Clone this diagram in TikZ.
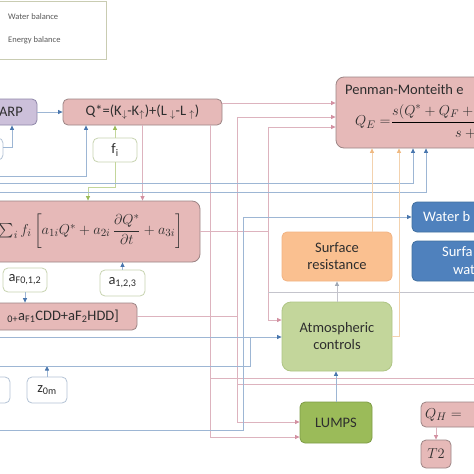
\documentclass[tikz,border=0pt]{standalone}
\usepackage{amsmath}
\usepackage{fontspec}
\setmainfont{Carlito}
\usetikzlibrary{arrows.meta}
\definecolor{pinkfill}{HTML}{E6B9B8}
\definecolor{pinkdraw}{HTML}{9C8585}
\definecolor{purfill}{HTML}{CCC0DA}
\definecolor{purdraw}{HTML}{8E86A8}
\definecolor{orfill}{HTML}{FAC090}
\definecolor{ordraw}{HTML}{F2B382}
\definecolor{lgfill}{HTML}{C3D69B}
\definecolor{lgdraw}{HTML}{AFC585}
\definecolor{dgfill}{HTML}{9BBB59}
\definecolor{dgdraw}{HTML}{7E9C46}
\definecolor{bfill}{HTML}{4F81BD}
\definecolor{bdraw}{HTML}{41709F}
\definecolor{pline}{HTML}{DDB3BE}
\definecolor{ptip}{HTML}{D391A2}
\definecolor{bline}{HTML}{9DB6D4}
\definecolor{btip}{HTML}{4A77AE}
\definecolor{gline}{HTML}{C3D69B}
\definecolor{gtip}{HTML}{9BBB59}
\definecolor{tline}{HTML}{F3D2AE}
\definecolor{ttip}{HTML}{EFB982}
\definecolor{greyline}{HTML}{C4C4CC}
\definecolor{greytip}{HTML}{A0A8B4}
\definecolor{legdraw}{HTML}{C9CCB2}
\definecolor{wbdraw}{HTML}{C7D3B0}
\definecolor{zdraw}{HTML}{B4C3D6}
\definecolor{txt}{HTML}{2E2E2E}
\newcommand{\myfs}{\fontsize{14.5}{17}\selectfont}
\newcommand{\mysmall}{\fontsize{8.5}{10}\selectfont}
\newcommand{\mymath}{\fontsize{15.5}{18}\selectfont}
\tikzset{
  box/.style={draw, rounded corners=5pt, line width=0.8pt, inner sep=0pt, text=txt, font=\myfs, align=center},
  pinkbox/.style={box, fill=pinkfill, draw=pinkdraw},
  purbox/.style={box, fill=purfill, draw=purdraw},
  whitegbox/.style={box, fill=white, draw=wbdraw},
  whitebbox/.style={box, fill=white, draw=zdraw},
  orbox/.style={box, fill=orfill, draw=ordraw},
  lgbox/.style={box, fill=lgfill, draw=lgdraw},
  dgbox/.style={box, fill=dgfill, draw=dgdraw},
  bluebox/.style={box, fill=bfill, draw=bdraw, text=white},
  lbl/.style={inner sep=0pt, text=txt, font=\myfs},
  pl/.style={draw=pline, line width=0.8pt},
  bl/.style={draw=bline, line width=0.8pt},
  gl/.style={draw=greyline, line width=0.8pt},
  pa/.style={pl, -{Triangle[length=4.5pt,width=4pt,color=ptip]}},
  ba/.style={bl, -{Triangle[length=4.5pt,width=4pt,color=btip]}},
  ga/.style={draw=gline, line width=0.8pt, -{Triangle[length=4.5pt,width=4pt,color=gtip]}},
  ta/.style={draw=tline, line width=0.8pt, -{Triangle[length=4.5pt,width=4pt,color=ttip]}},
  gra/.style={gl, -{Triangle[length=4.5pt,width=4pt,color=greytip]}},
}
\begin{document}
\begin{tikzpicture}[x=1pt,y=-1pt]
\useasboundingbox (0,0) rectangle (474,474);
\clip (0,0) rectangle (474,474);
\fill[white] (0,0) rectangle (474,474);

% legend
\node[draw=legdraw, line width=0.8pt, fill=white, minimum width=111pt, minimum height=58pt, inner sep=0pt] (legend) at (50.5,30) {};
\node[anchor=west, inner sep=0pt, font=\mysmall, text=black!65] (lwater) at (8,17) {Water balance};
\node[anchor=west, inner sep=0pt, font=\mysmall, text=black!65] (lenergy) at (8,40) {Energy balance};

% coordinates for free ends and bends
\coordinate (c3) at (0,176);
\coordinate (c5) at (88,187);
\coordinate (c7) at (210,437);
\coordinate (c7b) at (210,378);
\coordinate (c7e) at (480,378);
\coordinate (c8) at (237,316);
\coordinate (c8b) at (237,384);
\coordinate (c8e) at (480,384);
\coordinate (c9) at (268,231);
\coordinate (c9b) at (268,292);
\coordinate (c9e) at (480,292);
\coordinate (c103) at (0,103);
\coordinate (c117) at (0,117);
\coordinate (c127) at (0,127);
\coordinate (c320) at (0,320);
\coordinate (c422) at (0,422);
\coordinate (c11) at (0,183);
\coordinate (c12) at (0,192);
\coordinate (c17) at (0,430);
\coordinate (c17b) at (243,430);
\coordinate (c18) at (0,337);
\coordinate (c19) at (0,366);
\coordinate (c19b) at (250,337);

% boxes
\node[purbox, minimum width=54pt, minimum height=26pt] (ARP) at (10,112) {};
\node[lbl, anchor=east] (ARPt) at (23,112) {ARP};
\node[whitebbox, minimum width=33pt, minimum height=22pt] (lb1) at (-13.5,149) {};
\node[pinkbox, minimum width=159pt, minimum height=26pt] (Qstar) at (142.5,112) {Q*=(K$_\downarrow$-K$_\uparrow$)+(L $_\downarrow$-L $_\uparrow$)};
\node[whitegbox, minimum width=44pt, minimum height=24pt] (fi) at (115,150) {f\textsubscript{i}};
\node[pinkbox, rounded corners=8pt, minimum width=220pt, minimum height=61pt] (OHM) at (90,231.5) {};
\node[lbl, anchor=east, font=\mymath] (OHMt) at (183,231) {$\sum_i f_i\left[a_{1i}Q^{*}+a_{2i}\,\dfrac{\partial Q^{*}}{\partial t}+a_{3i}\right]$};
\node[whitegbox, minimum width=44pt, minimum height=24pt] (aF) at (25,280) {a\textsubscript{F0,1,2}};
\node[whitegbox, minimum width=45pt, minimum height=26pt] (a123) at (122.5,283) {a\textsubscript{1,2,3}};
\node[pinkbox, minimum width=156pt, minimum height=27pt] (QF) at (59,316.5) {};
\node[lbl, anchor=east] (QFt) at (119,316.5) {\textsubscript{0+}a\textsubscript{F1}CDD+aF\textsubscript{2}HDD]};
\node[whitebbox, minimum width=40pt, minimum height=26pt] (lb2) at (-10,390) {};
\node[whitebbox, minimum width=40pt, minimum height=26pt] (z0m) at (47,390) {z\textsubscript{0m}};

\node[pinkbox, rounded corners=8pt, minimum width=164pt, minimum height=71pt] (PM) at (418,112.5) {};
\node[lbl, anchor=west] (PMt) at (345,89.5) {Penman-Monteith e};
\node[lbl, anchor=west, font=\mymath] (QE) at (355,122) {$Q_E=$};
\node[lbl, anchor=west, font=\mymath] (num) at (392,111.5) {$s(Q^{*}+Q_F+{}$};
\node[lbl, anchor=west, font=\mymath] (den) at (455,134) {$s+{}$};
\draw[line width=0.6pt, black] (392,122) -- (480,122);

\node[bluebox, minimum width=96pt, minimum height=30pt] (WB) at (460,217) {};
\node[lbl, anchor=west, text=white] (WBt) at (423,217) {Water b};
\node[bluebox, minimum width=96pt, minimum height=40pt] (SW) at (460,261) {};
\node[lbl, anchor=west, text=white] (SWt1) at (442,252) {Surfa};
\node[lbl, anchor=west, text=white] (SWt2) at (453,270) {wat};

\node[orbox, minimum width=110pt, minimum height=49pt] (SR) at (337,256.5) {Surface\\resistance};
\node[lgbox, rounded corners=9pt, minimum width=110pt, minimum height=69pt] (Atm) at (337,336.5) {Atmospheric\\controls};
\node[dgbox, minimum width=72pt, minimum height=41pt] (LUMPS) at (336,422.5) {LUMPS};
\node[pinkbox, minimum width=78pt, minimum height=25pt] (QH) at (460,414.5) {};
\node[lbl, anchor=west, font=\mymath] (QHt) at (425,414.5) {$Q_H=$};
\node[pinkbox, minimum width=30pt, minimum height=28pt, font=\mymath] (T2) at (436,454) {$T2$};

% connectors
\draw[ba] (ARP.east) -- (Qstar.west);
\draw[ba] ([yshift=2pt]lb1.east) -| ([xshift=2pt]ARP.south);
\draw[ba] (c3) -| ([xshift=-56.5pt]Qstar.south);
\draw[ga] (fi.north) -- (fi.north |- Qstar.south);
\draw[ga] (fi.south) |- (c5) -- (c5 |- OHM.north);
\draw[pa] (Qstar.south) -- (Qstar.south |- OHM.north);
\draw[pa] ([xshift=67.5pt]Qstar.south) |- (LUMPS.west |- c7);
\draw[pl] (c7b) -- (c7e);
\draw[pl] (QF.east) -- (QF.east -| c8);
\draw[pa] (c8) |- (PM.west |- c117);
\draw[pa] (c8) |- (LUMPS.west |- c422);
\draw[pl] (c8b) -- (c8e);
\draw[pl] (OHM.east) -- (OHM.east -| c9);
\draw[pa] (c9) |- (PM.west |- c127);
\draw[pa] (c9) |- (Atm.west |- c320);
\draw[gl] (c9b) -- (c9e);
\draw[pa] (Qstar.east |- c103) -- (PM.west |- c103);
\draw[ba] (c11) -| ([xshift=-5pt]PM.south);
\draw[ba] (c12) -| ([xshift=8pt]PM.south);
\draw[ta] ([xshift=35pt]SR.north) -- ([xshift=35pt]SR.north |- PM.south);
\draw[ta] (Atm.east) -| ([xshift=-19pt]PM.south);
\draw[gra] (Atm.north) -- (SR.south);
\draw[ba] (LUMPS.north) -- (LUMPS.north |- Atm.south);
\draw[ba] (c17) -| (c17b |- WB.west) -- (WB.west);
\draw[ba] (c18) -- (Atm.west |- c18);
\draw[ba] (z0m.north) -- (z0m.north |- c19);
\draw[bl] (c19) -| (c19b);
\draw[ba] (a123.north) -- (a123.north |- OHM.south);
\draw[ba] (aF.south) -- (aF.south |- QF.north);
\draw[pa] (QH.south -| T2.north) -- (T2.north);
\end{tikzpicture}
\end{document}
